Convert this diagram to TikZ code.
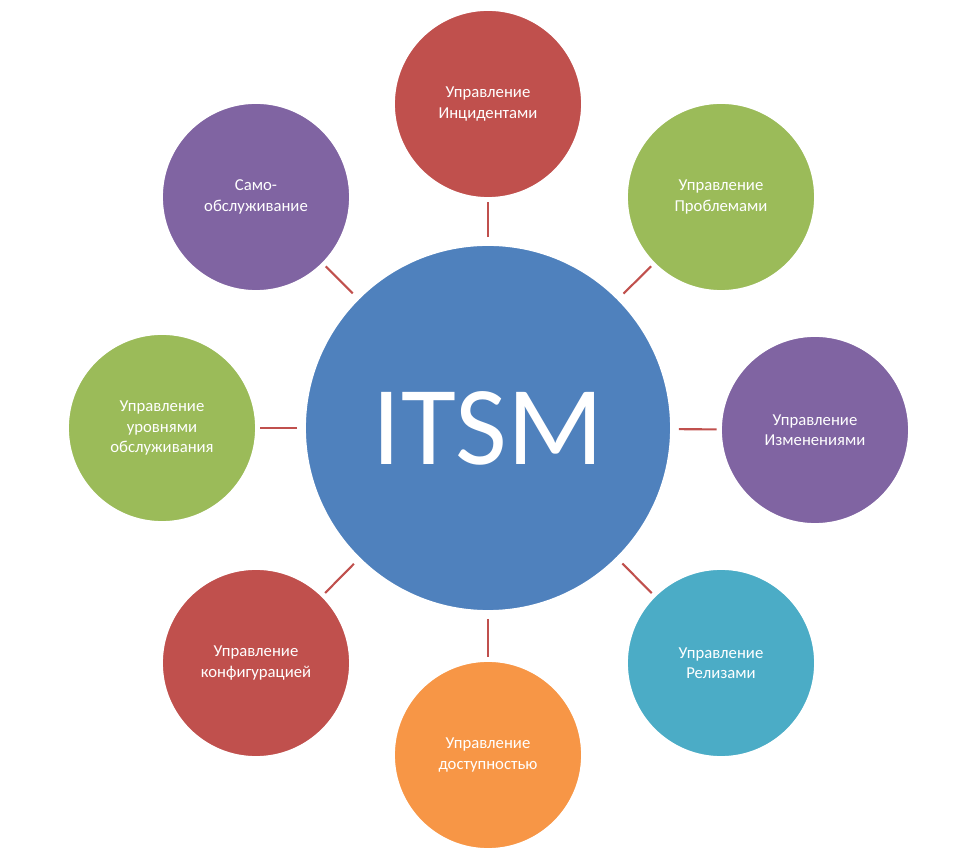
\documentclass[tikz,border=0pt]{standalone}
\usepackage{fontspec}
\setmainfont{Carlito}
\usetikzlibrary{positioning}
\definecolor{cred}{HTML}{C0504D}
\definecolor{cgreen}{HTML}{9BBB59}
\definecolor{cpurple}{HTML}{8064A2}
\definecolor{cteal}{HTML}{4BACC6}
\definecolor{corange}{HTML}{F79646}
\definecolor{cblue}{HTML}{4F81BD}
\tikzset{
	sat/.style={circle, minimum size=3.76cm, inner sep=0pt, text=white, align=center, font=\fontsize{9.5}{11.5}\selectfont, draw=white, line width=1pt},
	link/.style={draw=cred, line width=1.2pt, shorten <=4pt, shorten >=2pt}
}
\begin{document}
\begin{tikzpicture}[x=0.02cm, y=-0.02cm]
		\useasboundingbox (0,0) rectangle (974,857);
		\node[circle, minimum size=7.32cm, fill=cblue, draw=white, line width=1pt, text=white, font=\fontsize{64}{64}\selectfont] (itsm) at (488,428) {ITSM};
		\node[sat, fill=cred] (inc) at (488,104) {Управление\\Инцидентами};
		\node[sat, fill=cgreen] (prob) at (721,197) {Управление\\Проблемами};
		\node[sat, fill=cpurple] (chg) at (815,430) {Управление\\Изменениями};
		\node[sat, fill=cteal] (rel) at (721,663) {Управление\\Релизами};
		\node[sat, fill=corange] (avail) at (488,755) {Управление\\доступностью};
		\node[sat, fill=cred] (conf) at (256,663) {Управление\\конфигурацией};
		\node[sat, fill=cgreen] (slm) at (162,428) {Управление\\уровнями\\обслуживания};
		\node[sat, fill=cpurple] (self) at (256,197) {Само-\\обслуживание};
		\foreach \n in {inc,prob,chg,rel,avail,conf,slm,self} {
			\draw[link] (itsm) -- (\n);
		}
\end{tikzpicture}
\end{document}
